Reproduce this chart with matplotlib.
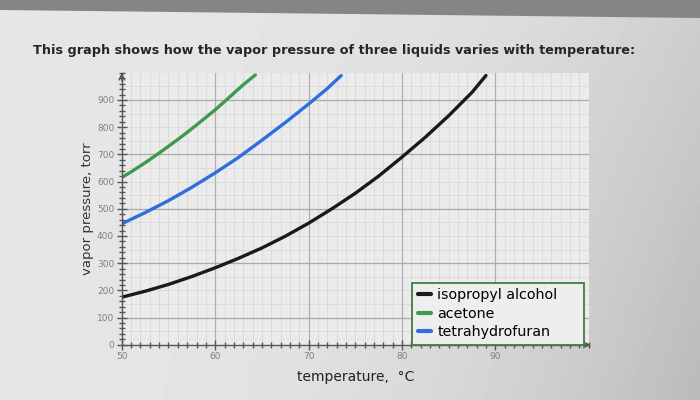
import numpy as np
import matplotlib
matplotlib.use('Agg')
import matplotlib.pyplot as plt
from matplotlib.ticker import MultipleLocator, FixedLocator

# values (temperature in C, pressure in torr)
ipa_temp = [50, 52.5, 55, 57.5, 60, 62.5, 65, 67.5, 70, 72.5, 75, 77.5, 80, 82.5, 85, 87.5, 89]
ipa_press = [175, 197, 222, 251, 283, 318, 356, 399, 447, 500, 557, 620, 690, 763, 842, 928, 990]

acetone_temp = [50, 51, 52, 53, 54, 55, 56, 57, 58, 59, 60, 61, 62, 63, 64.3]
acetone_press = [615, 636, 658, 681, 705, 730, 755, 781, 808, 836, 864, 894, 925, 956, 992]

thf_temp = [50, 52.5, 55, 57.5, 60, 62.5, 65, 67.5, 70, 72, 73.5]
thf_press = [445, 486, 530, 579, 632, 689, 752, 817, 885, 942, 990]

x_labels = [50, 60, 70, 80, 90]
y_labels = [0, 100, 200, 300, 400, 500, 600, 700, 800, 900]

title = 'This graph shows how the vapor pressure of three liquids varies with temperature:'

fig = plt.figure(figsize=(7, 4), dpi=100)

# screen-photo background: light gray getting darker to the right
bg = fig.add_axes([0, 0, 1, 1], zorder=-10)
gx = np.linspace(0, 1, 200)
gy = np.linspace(0, 1, 100)
GX, GY = np.meshgrid(gx, gy)
shade = 0.90 - 0.09 * GX**3 - 0.08 * (GX**2) * GY
bg.imshow(shade, cmap='gray', vmin=0, vmax=1, extent=[0, 1, 0, 1], aspect='auto', origin='upper')
# dark band at the top of the photo
bg.fill([0, 1, 1, 0], [1, 1, 0.955, 0.975], color='#858585', lw=0)
bg.set_xlim(0, 1)
bg.set_ylim(0, 1)
bg.axis('off')

fig.text(0.047, 0.873, title, fontsize=9.2, fontweight='bold', color='#262626',
         ha='left', va='center', family='DejaVu Sans')

ax = fig.add_axes([0.174, 0.138, 0.667, 0.680])
ax.set_facecolor('#ebebeb')

ax.plot(ipa_temp, ipa_press, color='#1a1a1a', lw=2.4, label='isopropyl alcohol', solid_capstyle='round')
ax.plot(acetone_temp, acetone_press, color='#3d9b4c', lw=2.4, label='acetone', solid_capstyle='round')
ax.plot(thf_temp, thf_press, color='#2f6ee0', lw=2.4, label='tetrahydrofuran', solid_capstyle='round')

ax.set_xlim(50, 100)
ax.set_ylim(0, 1000)

# grid: light lines every 1 C / 50 torr, darker ones every 10 C / 200 torr
for t in np.arange(51, 100, 1):
    ax.axvline(t, color='#d9d9d9', lw=0.6, zorder=0)
for p in np.arange(50, 1000, 50):
    ax.axhline(p, color='#d9d9d9', lw=0.6, zorder=0)
for t in [60, 70, 80, 90]:
    ax.axvline(t, color='#b0b0b0', lw=0.9, zorder=0)
for p in [100, 300, 500, 700, 900]:
    ax.axhline(p, color='#aaaaaa', lw=0.9, zorder=0)

for s in ['top', 'right']:
    ax.spines[s].set_visible(False)
for s in ['left', 'bottom']:
    ax.spines[s].set_color('#555555')
    ax.spines[s].set_linewidth(1.0)

ax.xaxis.set_major_locator(FixedLocator(x_labels))
ax.yaxis.set_major_locator(FixedLocator(y_labels))
ax.xaxis.set_minor_locator(MultipleLocator(1))
ax.yaxis.set_minor_locator(MultipleLocator(20))
ax.tick_params(which='major', direction='inout', length=7, width=1.0, color='#555555',
               labelsize=6.5, labelcolor='#808080', pad=2)
ax.tick_params(which='minor', direction='inout', length=5, width=1.0, color='#555555')

# arrow heads on the axes
ax.annotate('', xy=(0, 1.01), xytext=(0, 0.96), xycoords='axes fraction',
            arrowprops=dict(arrowstyle='->', color='#555555', lw=1.0), annotation_clip=False)
ax.annotate('', xy=(1.01, 0), xytext=(0.96, 0), xycoords='axes fraction',
            arrowprops=dict(arrowstyle='->', color='#555555', lw=1.0), annotation_clip=False)

ax.set_xlabel('temperature,  °C', fontsize=10, color='#222222', labelpad=6)
ax.set_ylabel('vapor pressure, torr', fontsize=9.5, color='#333333', labelpad=2)

leg = ax.legend(loc='lower left', bbox_to_anchor=(0.622, 0.0, 0.367, 0.22), mode='expand',
                fontsize=10.3, handlelength=0.9, handletextpad=0.45, labelspacing=0.3,
                borderpad=0.4, borderaxespad=0.0, fancybox=False, framealpha=1,
                facecolor='#eeeeee', edgecolor='#3f7f3f')
leg.get_frame().set_linewidth(1.3)
for line in leg.get_lines():
    line.set_linewidth(3)

fig.savefig('out.png', dpi=100)
